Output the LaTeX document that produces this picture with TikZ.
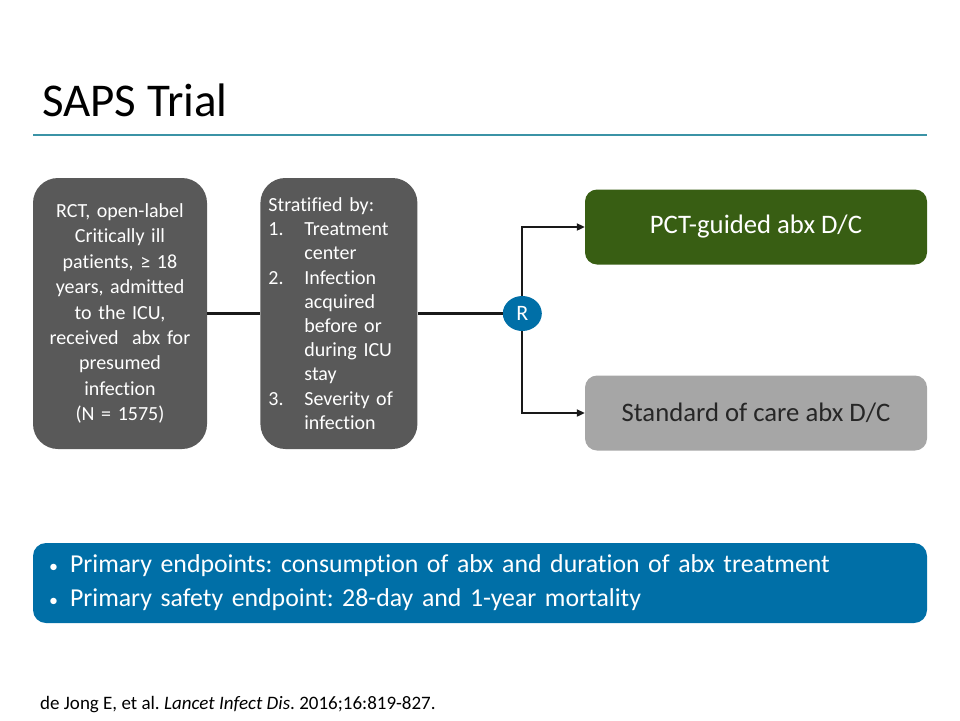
\documentclass[tikz,border=0pt]{standalone}
\usepackage{fontspec}
\setmainfont{Carlito}[Ligatures=NoCommon]
\usepackage{xcolor}
\usepackage{tikz}
\usetikzlibrary{positioning, arrows.meta}
\usetikzlibrary{shapes.geometric}

\definecolor{boxgray}{HTML}{595959}
\definecolor{socgray}{HTML}{A6A6A6}
\definecolor{pctgreen}{HTML}{385E13}
\definecolor{endblue}{HTML}{006FA7}
\definecolor{ruleteal}{HTML}{3B93A6}

\begin{document}
\frenchspacing
\begin{tikzpicture}[
    x=1pt, y=-1pt,
    block/.style={rectangle, rounded corners=25pt, fill=boxgray, text=white, minimum height=271pt, font=\fontsize{20}{25.4}\selectfont},
    arm/.style={rectangle, rounded corners=12pt, minimum width=342pt, minimum height=75pt, font=\fontsize{26.7}{32}\selectfont},
    link/.style={line width=2.2pt, draw=black!90},
    arrow/.style={link, -{Triangle[length=8pt, width=7pt]}}
]
    \useasboundingbox (0,0) rectangle (960,720);

    % Title and rule
    \node (title) [anchor=base west, inner sep=0pt, font=\fontsize{47}{56}\selectfont] at (42,116) {SAPS Trial};
    \draw [ruleteal, line width=2pt] (33,135) -- (927,135);

    % Population and stratification
    \node (rct) [block, minimum width=174pt, text width=158pt, align=center] at (120,313.5)
        {RCT, open-label\\Critically ill\\patients, ≥ 18\\years, admitted\\to the ICU,\\received\ \ abx for\\presumed\\infection\\(N = 1575)};
    \node (strat) [block, minimum width=157pt, text width=141pt, inner xsep=8pt, align=left, font=\fontsize{20}{24.2}\selectfont, right=53pt of rct]
        {Stratified by:\\
         \makebox[36pt][l]{1.}Treatment\\
         \hspace*{36pt}center\\
         \makebox[36pt][l]{2.}Infection\\
         \hspace*{36pt}acquired\\
         \hspace*{36pt}before or\\
         \hspace*{36pt}during ICU\\
         \hspace*{36pt}stay\\
         \makebox[36pt][l]{3.}Severity of\\
         \hspace*{36pt}infection};

    % Randomisation and arms
    \node (rand) [ellipse, fill=endblue, text=white, minimum width=39pt, minimum height=35pt, inner sep=0pt, font=\fontsize{22}{26}\selectfont, right=85pt of strat] {R};
    \node (pct) [arm, fill=pctgreen, text=white] at (756,227) {PCT-guided abx D/C};
    \node (soc) [arm, fill=socgray, text=black!85] at (756,413) {Standard of care abx D/C};

    \draw [link] (rct) -- (strat);
    \draw [link] (strat) -- (rand);
    \draw [arrow] (rand.north) |- (pct.west);
    \draw [arrow] (rand.south) |- (soc.west);

    % Endpoints
    \node (ends) [rectangle, rounded corners=13pt, fill=endblue, text=white, minimum width=894pt, minimum height=80pt, text width=862pt, inner xsep=16pt, align=left, font=\fontsize{25.8}{34}\selectfont] at (480,583)
        {\makebox[21pt][l]{\fontsize{18}{18}\selectfont\textbullet}Primary endpoints: consumption of abx and duration of abx treatment\\
         \makebox[21pt][l]{\fontsize{18}{18}\selectfont\textbullet}Primary safety endpoint: 28-day and 1-year mortality};

    % Reference
    \node (cite) [anchor=base west, inner sep=0pt, font=\fontsize{19}{23}\selectfont] at (40,709)
        {de Jong E, et al. \textit{Lancet Infect Dis}. 2016;16:819-827.};
\end{tikzpicture}
\end{document}
